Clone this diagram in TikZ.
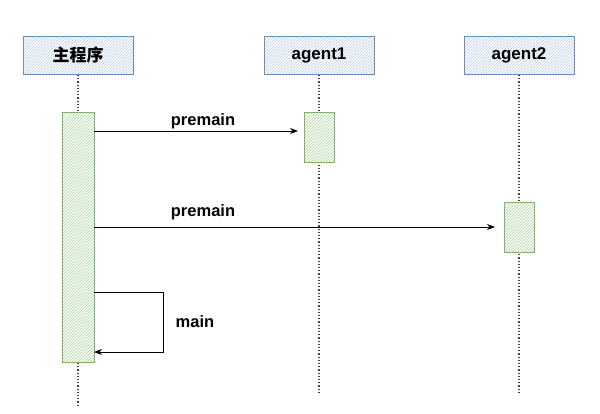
\documentclass[tikz,border=0pt]{standalone}
\usepackage{fontspec}
\setmainfont{Liberation Sans}
\newfontfamily\cjk{Noto Sans CJK SC}
\usetikzlibrary{patterns,arrows.meta}
\definecolor{bbord}{HTML}{6C8EBF}
\definecolor{bfill}{HTML}{B8CCE8}
\definecolor{gbord}{HTML}{82B366}
\definecolor{gfill}{HTML}{A9D39A}
\begin{document}
\begin{tikzpicture}[x=1pt,y=-1pt,
  head/.style={draw=bbord,line width=0.9pt,preaction={fill=white},pattern={north east lines},pattern color=bfill,minimum width=110pt,minimum height=38pt,font=\bfseries\fontsize{17}{20}\selectfont,inner sep=0pt},
  act/.style={draw=gbord,line width=1pt,preaction={fill=white},pattern={north east lines},pattern color=gfill,inner sep=0pt},
  life/.style={dotted,line width=1.2pt,black!75},
  msg/.style={line width=0.8pt,-{Stealth[length=8pt,width=6pt]}},
  lbl/.style={font=\bfseries\fontsize{16.5}{19}\selectfont}]
\useasboundingbox (0,0) rectangle (600,413);
\fill[white] (0,0) rectangle (600,413);
\coordinate (l0t) at (78,75); \coordinate (l0b) at (78,405);
\coordinate (l1t) at (319,75); \coordinate (l1b) at (319,395);
\coordinate (l2t) at (519,75); \coordinate (l2b) at (519,395);
\draw[life] (l0t) -- (l0b);
\draw[life] (l1t) -- (l1b);
\draw[life] (l2t) -- (l2b);
\node[head] (m) at (78,55) {\cjk\bfseries 主程序};
\node[head] (a1) at (319,55) {agent1};
\node[head] (a2) at (519,55) {agent2};
\node[act,minimum width=32pt,minimum height=250pt] (am) at (78,237) {};
\node[act,minimum width=30pt,minimum height=50pt] (aa1) at (319,137) {};
\node[act,minimum width=30pt,minimum height=50pt] (aa2) at (519,227) {};
\coordinate (s1) at (94,131); \coordinate (e1) at (298,131);
\draw[msg] (s1) -- (e1);
\node[lbl] (p1) at (203,121) {premain};
\coordinate (s2) at (94,227); \coordinate (e2) at (495,227);
\draw[msg] (s2) -- (e2);
\node[lbl] (p2) at (203,212) {premain};
\coordinate (s3) at (94,292); \coordinate (e3) at (94,352);
\draw[msg] (s3) -- (163,292) -- (163,352) -- (e3);
\node[lbl] (ml) at (195,322) {main};
\end{tikzpicture}
\end{document}
